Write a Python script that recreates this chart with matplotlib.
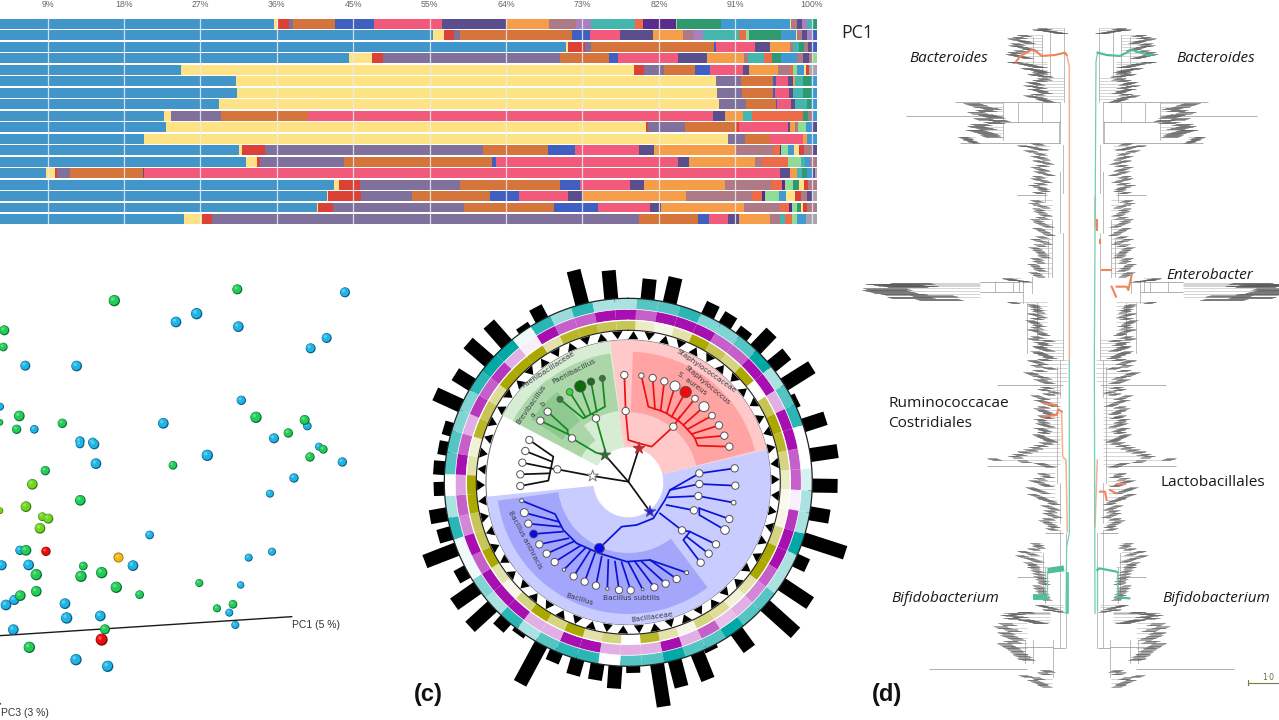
import numpy as np
import matplotlib
matplotlib.use("Agg")
import matplotlib.pyplot as plt
from matplotlib.patches import Wedge
from matplotlib.colors import to_rgb

W, H = 1279, 720
fig = plt.figure(figsize=(W / 100, H / 100), dpi=100, facecolor="white")


def px_axes(x0, y0, x1, y1, **kw):
    return fig.add_axes([x0 / W, 1 - y1 / H, (x1 - x0) / W, (y1 - y0) / H], **kw)


def ftext(x, y, s, **kw):
    fig.text(x / W, 1 - y / H, s, **kw)


# ---------- (a) stacked taxonomic bars ----------
taxon_colors = dict(B="#4195c9", Y="#fde386", R="#dc4138", G="#80709c", O="#d5743b", L="#3f60c0",
                    P="#f25a7b", N="#5a4f8c", A="#f59d48", M="#ad7a86", I="#a97fc0", T="#45b6ae",
                    C="#ee6b4a", D="#5a2d8c", E="#8fdc96", H="#2f9a70", S="#4199d2", X="#a9a2ac")
tick_vals = [9.09, 18.18, 27.27, 36.36, 45.45, 54.55, 63.64, 72.73, 81.82, 90.91, 100]
tick_labels = ["9%", "18%", "27%", "36%", "45%", "55%", "64%", "73%", "82%", "91%", "100%"]
row01 = ("BYRGOLPNAMITCDEHSYMNITH", [36.0, 36.5, 37.8, 38.3, 43.3, 47.9, 56.0, 63.6, 68.8, 72.0, 73.7, 79.0, 79.9, 83.8, 84.0, 89.2, 97.4, 97.6, 98.2, 98.9, 99.4, 100.0, 100.6])
row02 = ("BYRGOLPNAMITCEHSYMNIL", [54.9, 56.2, 57.4, 58.2, 71.5, 73.6, 77.2, 81.1, 84.7, 85.9, 87.1, 91.4, 92.2, 92.6, 96.4, 98.1, 98.3, 98.9, 99.4, 100.0, 100.6])
row03 = ("BYRGOLPNAMTHMNL", [70.8, 71.0, 73.0, 73.7, 88.4, 88.6, 93.2, 95.0, 97.4, 97.8, 98.5, 99.1, 99.6, 100.1, 100.6])
row04 = ("BYRGOLPNAMTCHSMNME", [45.0, 47.7, 49.0, 70.1, 75.9, 76.9, 84.1, 87.6, 91.9, 92.4, 94.3, 95.3, 96.4, 98.2, 99.0, 99.7, 100.2, 100.6])
row05 = ("BYRGOLPNAMCESYRX", [24.9, 78.8, 80.0, 82.4, 86.1, 87.9, 91.8, 92.6, 96.0, 97.4, 97.8, 98.3, 99.1, 99.3, 99.7, 100.6])
row06 = ("BYGOLPNATHS", [31.5, 88.6, 91.6, 95.4, 95.8, 97.2, 97.8, 98.0, 99.0, 99.9, 100.6])
row07 = ("BYGOLPNTHS", [31.6, 88.7, 91.7, 95.4, 95.6, 97.3, 97.8, 99.0, 99.9, 100.6])
row08 = ("BYGOLPNTHS", [29.5, 89.0, 92.2, 95.7, 95.9, 97.5, 98.0, 99.4, 99.9, 100.6])
row09 = ("BYGOPNATCHMS", [22.9, 23.8, 29.7, 40.1, 88.3, 89.7, 91.8, 92.9, 99.0, 99.6, 100.2, 100.6])
row10 = ("BYRGORPNAMESN", [23.2, 80.3, 80.5, 84.9, 91.1, 91.3, 97.2, 97.4, 98.0, 98.4, 99.3, 100.0, 100.6])
row11 = ("BYGOPAS", [20.5, 90.0, 92.1, 95.1, 99.0, 99.4, 100.6])
row12 = ("BYRGOLPNAMCDESYRMN", [31.8, 32.2, 34.9, 60.9, 68.6, 71.8, 79.5, 81.2, 91.0, 95.4, 96.2, 96.4, 97.2, 97.9, 98.5, 99.1, 100.0, 100.6])
row13 = ("BYRGOLPNAMCETSM", [32.7, 34.0, 34.4, 44.3, 62.0, 62.4, 84.1, 85.4, 93.3, 94.1, 97.2, 98.7, 99.2, 99.8, 100.6])
row14 = ("BYRGONPNATHSNX", [8.9, 10.0, 10.2, 11.8, 20.4, 20.6, 96.2, 97.4, 98.2, 98.9, 99.4, 100.0, 100.4, 100.6])
row15 = ("BYRGOLPNAMCDEHYRM", [43.2, 43.8, 46.2, 58.2, 70.1, 72.4, 78.4, 80.1, 89.7, 95.2, 96.5, 96.8, 97.8, 98.5, 99.1, 99.6, 100.6])
row16 = ("BYRGOLPNAMCDESYRMNX", [42.3, 42.5, 46.4, 52.4, 61.7, 65.2, 71.0, 72.8, 85.0, 92.9, 94.1, 94.4, 96.1, 97.0, 98.0, 98.7, 99.4, 100.0, 100.6])
row17 = ("BYRGOLPNAMCDEHYRM", [41.1, 41.3, 43.0, 58.6, 69.3, 74.6, 80.8, 82.1, 91.9, 96.2, 97.3, 97.7, 98.2, 98.7, 99.0, 99.5, 100.6])
row18 = ("BYRGOLPNAMTCESX", [25.3, 27.5, 28.6, 79.5, 86.5, 87.8, 90.0, 91.4, 95.0, 96.2, 96.8, 97.7, 98.2, 99.3, 100.6])
bar_rows = [row01, row02, row03, row04, row05, row06, row07, row08, row09,
            row10, row11, row12, row13, row14, row15, row16, row17, row18]

ax = px_axes(-28.7, 18.26, 816.7, 224.7)
for i, (taxa, ends) in enumerate(bar_rows):
    left = 0.0
    for t, e in zip(taxa, ends, strict=True):
        ax.barh(i, e - left, left=left, height=0.87, color=taxon_colors[t], linewidth=0)
        left = e
ax.set_xlim(0, 100.6)
ax.set_ylim(17.5, -0.5)
ax.set_yticks([])
ax.set_xticks(tick_vals)
ax.set_xticklabels(tick_labels, fontsize=6.3, color="#666666", family="Liberation Sans")
ax.tick_params(axis="x", top=False, bottom=False, labeltop=True, labelbottom=False, length=0, pad=7)
ax.grid(axis="x", color="#e8eef4", lw=0.9, alpha=0.85)
ax.set_axisbelow(False)
for s in ax.spines.values():
    s.set_visible(False)
ftext(841, 38, "PC1", fontsize=12.8, family="Open Sans", color="#222222")

# ---------- (b) PCoA scatter ----------
cyan_x = [1035, 590, 528, 715, 980, 932, 76, 230, 0, 724, 490, 103, 240, 240, 278, 283, 288, 822, 922, 957, 1027, 622, 882, 810, 449, 60, 5, 86, 399, 746, 816, 722, 18, 43, 195, 200, 301, 688, 706, 40, 228, 323]
cyan_y = [67, 131, 156, 170, 204, 235, 287, 288, 410, 391, 460, 478, 513, 522, 517, 523, 581, 505, 468, 530, 576, 556, 624, 671, 795, 841, 886, 885, 887, 863, 845, 945, 1005, 990, 1001, 1044, 1038, 1028, 1065, 1079, 1169, 1189]
cyan_r = [15, 17, 16, 16, 15, 15, 15, 16, 12, 14, 16, 13, 14, 13, 14, 15, 16, 15, 13, 12, 14, 17, 14, 12, 13, 14, 15, 16, 16, 12, 12, 11, 16, 15, 16, 17, 16, 12, 12, 16, 17, 17]
green_x = [712, 343, 13, 10, 58, 0, 50, 187, 768, 914, 865, 970, 930, 519, 136, 241, 78, 250, 243, 305, 109, 109, 61, 349, 419, 598, 651, 699, 315, 88]
green_y = [58, 92, 181, 231, 438, 457, 478, 460, 442, 450, 489, 538, 561, 586, 602, 691, 841, 888, 919, 908, 914, 964, 977, 952, 974, 939, 1015, 1003, 1078, 1132]
green_r = [15, 17, 15, 13, 16, 10, 14, 14, 17, 15, 14, 13, 14, 13, 14, 16, 16, 13, 17, 17, 17, 16, 16, 17, 13, 12, 12, 13, 15, 17]
lime_x = [97, 78, 127, 145, 120, 0]
lime_y = [643, 710, 740, 746, 775, 722]
lime_r = [16, 16, 13, 15, 16, 10]
red_x = [138, 305]
red_y = [844, 1109]
red_r = [14, 18]
gold_x = [354]
gold_y = [862]
gold_r = [15]
pc_axis_x = [0, 875]
pc_axis_y = [1097, 1040]

bx = px_axes(0, 270, 360, 720)
bx.set_xlim(0, 1080)
bx.set_ylim(1350, 0)
bx.axis("off")
bx.patch.set_alpha(0)


def sphere(xs, ys, rs, col, dark):
    xs, ys, rs = np.array(xs, float), np.array(ys, float), np.array(rs, float)
    s = (2 * rs / 3 * 0.72) ** 2
    bx.scatter(xs, ys, s=s, color=dark, linewidths=0, zorder=3)
    bx.scatter(xs - rs * 0.08, ys - rs * 0.08, s=s * 0.72, color=col, linewidths=0, zorder=3)
    bx.scatter(xs - rs * 0.28, ys - rs * 0.30, s=s * 0.10, color="white", alpha=0.3, linewidths=0, zorder=3)


bx.plot(pc_axis_x, pc_axis_y, color="#1a1a1a", lw=1.0, zorder=2)
sphere(cyan_x, cyan_y, cyan_r, "#1fb4e6", "#0a5a80")
sphere(green_x, green_y, green_r, "#22cc55", "#0b6e35")
sphere(lime_x, lime_y, lime_r, "#6fd622", "#3c7a12")
sphere(red_x, red_y, red_r, "#f00a0a", "#800808")
sphere(gold_x, gold_y, gold_r, "#f5b70f", "#8a6a0a")
bx.plot([0, 2], [1300, 1302], color="#333333", lw=0.8)
ftext(292, 628, "PC1 (5 %)", fontsize=7.5, family="Liberation Sans", color="#333333")
ftext(1, 716, "PC3 (3 %)", fontsize=7.5, family="Liberation Sans", color="#333333")

# ---------- (c) cladogram ring ----------
teal_levels = [2, 2, 2.5, 1.5, 1.5, 2, 3, 1, 2, 2.5, 0, 0, 0.5, 1, 1, 3, 1, 1, 2, 2, 3, 2, 2, 3, 2, 2,
               0, 2.5, 2.5, 2, 1, 2.5, 1, 1.5, 0.2, 0.2, 2.5, 1, 0, 2, 2, 1.5, 1.5, 2.5, 3, 3, 0.2, 2.5, 1.2, 2.5, 1, 1]
magenta_levels = [2, 3, 3, 3, 2, 2, 3, 3, 1, 3, 3, 2, 2, 0.2, 2.5, 3, 3, 2, 1.5, 1, 0.8, 2, 1, 3, 1, 1,
                  1, 3, 3, 1, 1, 3, 3, 3, 2, 3, 1.5, 2, 1.2, 3, 2, 1, 2.5, 2, 2.5, 1, 0.2, 3, 2, 2, 3, 3]
olive_levels = [0.7, 0.3, 1, 3, 2, 1.5, 3, 0, 2, 3, 2.5, 1.5, 0.7, 0.2, 0.3, 1.5, 3, 3, 1, 0.5, 1.2, 1.5, 0.3, 1, 2.5, 0,
                1.5, 1, 3, 1.5, 3, 1.5, 0.3, 1, 3, 2, 2, 3, 3, 1, 0.5, 2.5, 2, 1.2, 3, 3, 3, 1, 2.5, 2.5, 2, 2]
bar_angles = [6, 13, 25.5, 31.6, 37.8, 43.7, 51, 57.9, 64, 72, 81.5, 91, 99.7, 108, 115, 123.6, 132, 144, 153.6, 158, 165.4, 171, 178.5,
              184, 189.6, 196, 203, 208.3, 216, 221.7, 227.6, 235, 241, 248.7, 254, 260, 268, 274.4, 280.5, 286.6, 294.6, 302, 311, 318.6, 325.8, 332, 345.5, 354.7]
bar_tips = [613, 630, 593, 590, 579, 622, 612, 650, 565, 622, 635, 628, 612, 684, 592, 655, 675, 618, 563, 638, 634, 681, 572,
            620, 601, 601, 585, 685, 564, 586, 643, 638, 588, 655, 593, 604, 584, 586, 579, 578, 637, 612, 637, 633, 568, 594, 656, 638]


def mix(color, level):
    c = np.array(to_rgb(color))
    return tuple(1 - (1 - c) * level / 3)


cx_px, cy_px, rmax_z = 628.3, 482.3, 700
pol = fig.add_axes([(cx_px - rmax_z / 3) / W, 1 - (cy_px + rmax_z / 3) / H, 2 * rmax_z / 3 / W, 2 * rmax_z / 3 / H],
                   projection="polar")
pol.set_theta_zero_location("N")
pol.set_theta_direction(-1)
pol.set_rlim(0, rmax_z)
pol.axis("off")
pol.patch.set_alpha(0)
half_w = 21
for a, tip in zip(bar_angles, bar_tips, strict=True):
    a_r = np.radians(a)
    r_in, r_out = np.hypot(540, half_w), np.hypot(tip, half_w)
    d_in, d_out = np.arctan(half_w / 540), np.arctan(half_w / tip)
    pol.fill([a_r - d_in, a_r - d_out, a_r + d_out, a_r + d_in], [r_in, r_out, r_out, r_in], color="black", linewidth=0, zorder=1)
seg_w = 360 / len(teal_levels)
for k, (a, b, c) in enumerate(zip(teal_levels, magenta_levels, olive_levels, strict=True)):
    th = np.radians(6.05 + k * seg_w)
    pol.bar(th, 33, bottom=519, width=np.radians(seg_w), color=mix("#00a8a6", a), linewidth=0, zorder=2)
    pol.bar(th, 32, bottom=487, width=np.radians(seg_w), color=mix("#a80fb0", b), linewidth=0, zorder=2)
    pol.bar(th, 30, bottom=456, width=np.radians(seg_w), color=mix("#aba800", c), linewidth=0, zorder=2)
th_all = np.linspace(0, 2 * np.pi, 361)
for r, lw, col in [(552, 0.9, "#222222"), (519, 0.5, "#ffffff"), (486, 0.9, "#ffffff"), (456, 0.8, "#222222"), (427, 0.7, "#666666")]:
    pol.plot(th_all, np.full(361, r), color=col, lw=lw, zorder=3)
triangle_dirs = [1, -1] * 29
for j, d in enumerate(triangle_dirs):
    a0 = np.radians(j * 360 / len(triangle_dirs) + 2)
    half = np.radians(2.0)
    if d > 0:
        tx, ty = [a0 - half, a0 + half, a0], [430, 430, 454]
    else:
        tx, ty = [a0 - half, a0 + half, a0], [454, 454, 430]
    pol.fill(tx, ty, color="black", linewidth=0, zorder=2)

cl = px_axes(420, 260, 850, 710)
cl.set_xlim(0, 1290)
cl.set_ylim(1350, 0)
cl.axis("off")
cl.patch.set_alpha(0)
C0 = (625, 667)
sector_spec = [(298, 352.6, 427, "#d6ecd3"), (352.6, 76.7, 427, "#ffc9c9"), (76.7, 264.2, 427, "#c9ccff")]
for a1, a2, r, col in sector_spec:
    cl.add_patch(Wedge(C0, r, a1 - 90, a2 - 90, width=r - 105, facecolor=col, linewidth=0, zorder=1))
band_spec = [(298, 322, 392, 160, "#aad6a8"), (322, 352, 390, 216, "#aad6a8"), (303, 322, 345, 235, "#8fc98f"),
             (2, 76, 392, 210, "#ffa3a3"), (143, 262, 395, 212, "#a3a6fa")]
for a1, a2, r1, r0, col in band_spec:
    cl.add_patch(Wedge(C0, r1, a1 - 90, a2 - 90, width=r1 - r0, facecolor=col, linewidth=0, zorder=1.5))

black_edges = [[(625, 665), (518, 648), (412, 628)], [(555, 585), (625, 665), (657, 565)], [(625, 665), (690, 755)],
               [(412, 628), (390, 625)], [(328, 540), (400, 590), (385, 662), (301, 678)], [(316, 573), (396, 605)],
               [(307, 608), (391, 625)], [(301, 643), (388, 640)]]
green_edges = [[(555, 585), (528, 578), (456, 535), (443, 520), (443, 510), (383, 455)], [(443, 522), (361, 482)],
               [(555, 570), (528, 475), (518, 462)], [(420, 418), (490, 475), (555, 440), (547, 355)], [(449, 396), (497, 472)],
               [(481, 379), (512, 462)], [(513, 365), (530, 455)]]
red_edges = [[(657, 550), (625, 540), (617, 453), (613, 345)], [(657, 550), (695, 560), (760, 500), (780, 470)],
             [(664, 347), (685, 440), (705, 447), (722, 452), (740, 460), (755, 470), (773, 480), (790, 495), (802, 508), (815, 522), (825, 535), (833, 557), (928, 560)],
             [(698, 354), (705, 447)], [(733, 364), (722, 452)], [(765, 378), (740, 460)], [(797, 396), (755, 470)],
             [(825, 416), (773, 480)], [(852, 440), (790, 495)], [(876, 467), (802, 508)], [(897, 496), (815, 522)], [(913, 527), (825, 535)]]
blue_edges = [[(538, 865), (605, 800), (650, 795), (700, 775), (735, 720), (750, 690), (838, 640), (944, 625)], [(750, 690), (838, 672), (946, 677)],
              [(745, 712), (835, 708), (941, 728)], [(740, 735), (822, 751)], [(838, 745), (928, 777)], [(838, 745), (838, 765), (915, 810)],
              [(720, 760), (786, 811), (810, 815), (888, 853)], [(810, 815), (790, 840), (842, 908)], [(800, 830), (866, 881)],
              [(305, 722), (405, 762), (430, 810), (470, 850), (538, 880), (620, 905), (690, 900), (800, 938)], [(313, 758), (415, 785)], [(325, 791), (420, 800)],
              [(341, 822), (428, 815)], [(358, 853), (445, 835)], [(380, 881), (460, 845)], [(404, 906), (480, 858)], [(432, 929), (495, 865)],
              [(461, 949), (510, 872)], [(494, 965), (525, 880)], [(528, 977), (545, 890)], [(562, 986), (565, 900)], [(597, 990), (585, 905)],
              [(632, 991), (605, 907)], [(668, 988), (625, 907)], [(703, 982), (645, 905)], [(737, 971), (665, 905)], [(770, 957), (690, 900)]]
for edges, col in [(black_edges, "#111111"), (green_edges, "#118a1e"), (red_edges, "#ee1111"), (blue_edges, "#0a14d8")]:
    for e in edges:
        xs, ys = zip(*e)
        cl.plot(xs, ys, color=col, lw=1.25, zorder=3, solid_joinstyle="round")

node_x = [328, 316, 307, 301, 301, 412, 361, 383, 456, 528, 617, 613, 760, 664, 698, 733, 765, 825, 852, 876, 897, 913, 928,
          838, 944, 838, 946, 835, 941, 822, 928, 915, 786, 888, 842, 866, 305, 313, 325, 358, 380, 404, 432, 461, 494, 528, 562, 597, 632, 668, 703, 737, 770, 800]
node_y = [540, 573, 608, 643, 678, 628, 482, 455, 535, 475, 453, 345, 500, 347, 354, 364, 378, 416, 440, 467, 496, 527, 560,
          640, 625, 672, 677, 708, 728, 751, 777, 810, 811, 853, 908, 881, 722, 758, 791, 853, 881, 906, 929, 949, 965, 977, 986, 990, 991, 988, 982, 971, 957, 938]
node_r = [11, 11, 11, 11, 11, 11, 11, 11, 11, 11, 11, 11, 11, 8, 11, 11, 15, 10, 15, 10, 11, 11, 11,
          11, 11, 11, 11, 11, 7, 11, 11, 13, 11, 11, 11, 11, 6, 12, 11, 11, 11, 11, 5, 11, 11, 11, 5, 11, 11, 4, 11, 11, 11, 6]
filled_x = [420, 449, 481, 513, 547, 797, 341, 538]
filled_y = [418, 396, 379, 365, 355, 396, 822, 865]
filled_r = [9, 10, 17, 11, 9, 17, 12, 15]
filled_c = ["#2e7d32", "#33dd33", "#0a6b0a", "#1f6a1f", "#2e7d32", "#f00a0a", "#0a0af0", "#0a0af0"]
node_s = (2 * np.array(node_r) / 3 * 0.72) ** 2
cl.scatter(node_x, node_y, s=node_s, facecolor="white", edgecolor="#555555", linewidths=0.7, zorder=4)
cl.scatter(filled_x, filled_y, s=(2 * np.array(filled_r) / 3 * 0.72) ** 2, c=filled_c, edgecolors="#555555", linewidths=0.6, zorder=4)
star_x = [555, 657, 690, 518]
star_y = [585, 565, 755, 648]
star_c = ["#1f7a2a", "#e01a1a", "#1a1ae0", "white"]
star_e = ["#555555", "#a04040", "#5555a0", "#777777"]
cl.scatter(star_x, star_y, s=75, marker="*", c=star_c, edgecolors=star_e, linewidths=0.7, zorder=5)
clade_labels = [("Paenibacillaceae", 385, 328, 33), ("Paenibacillus", 462, 333, 27), ("Brevibacillus", 332, 435, 55),
                ("a", 340, 466, 40), ("b", 368, 431, 40), ("Staphylococcaceae", 858, 332, -35), ("Staphylococcus", 862, 376, -40),
                ("S. aureus", 815, 370, -36), ("Bacillaceae", 697, 1072, 8), ("Bacillus subtilis", 634, 1015, 0),
                ("Bacillus", 477, 1018, -17), ("Bacillus anthracis", 315, 838, -62)]
for s, x, y, rot in clade_labels:
    cl.text(x, y, s, rotation=rot, fontsize=5.3, color="#3a3a4a", ha="center", va="center", rotation_mode="anchor", zorder=6)
ftext(414, 701, "(c)", fontsize=17, family="Liberation Sans", weight="bold", color="#111111")
ftext(872, 701, "(d)", fontsize=17, family="Liberation Sans", weight="bold", color="#111111")

# ---------- (d) mirrored phylogenies ----------
clade_top = [25, 45, 125, 175, 250, 300, 350, 370, 400, 540, 790, 805, 775, 845, 960, 1020, 1100, 1190, 1260, 1360, 1440, 1570, 1640, 1755, 1775, 1810, 1950]
clade_bot = [40, 115, 170, 245, 300, 350, 368, 395, 520, 770, 800, 840, 785, 960, 1020, 1090, 1190, 1260, 1340, 1440, 1530, 1640, 1740, 1775, 1810, 1920, 2000]
clade_base = [610, 545, 560, 612, 430, 430, 345, 570, 560, 575, 360, 360, 480, 560, 610, 620, 600, 600, 600, 585, 590, 545, 560, 610, 570, 500, 575]
clade_stem = [30, 30, 35, 30, 50, 50, 25, 30, 26, 26, 120, 130, 30, 26, 30, 30, 26, 26, 30, 26, 26, 26, 26, 25, 40, 40, 30]
clade_tips = [
    [530, 515, 540, 560, 580],
    [470, 455, 440, 465, 480, 450, 445, 470, 485, 460, 440, 435, 455, 475],
    [440, 470, 490, 510, 480, 505, 520, 515, 500, 530],
    [530, 515, 495, 510, 490, 515, 500, 520, 530, 510, 490, 515, 525, 540],
    [310, 330, 360, 345, 320, 350, 370, 340],
    [385, 370, 330, 320, 345, 315, 335, 355, 360],
    [295, 300, 310, 320],
    [510, 470, 500, 520, 490],
    [520, 510, 530, 515, 540, 525, 510, 530, 520, 545, 515, 510, 535, 520, 505, 525, 530, 515],
    [510, 505, 530, 515, 520, 535, 525, 510, 520, 540, 515, 530, 545, 525, 510, 535, 520, 505, 515, 525, 530, 510, 515, 500, 510, 520, 505, 515],
    [90, 15, 60, 40, 100, 70],
    [10, 5, 30, 60, 150, 80, 165],
    [425, 440, 470],
    [440, 500, 505, 510, 515, 500, 520, 510, 495, 505, 515, 510, 500, 520, 530, 510, 500],
    [540, 520, 530, 515, 520, 540, 510, 520, 535, 545, 530],
    [500, 520, 510, 545, 515, 490, 505, 530, 520, 540],
    [540, 530, 560, 545, 510, 530, 520, 540, 555, 530, 520, 535, 545, 530],
    [540, 520, 530, 525, 545, 520, 535, 530, 515, 525, 540],
    [550, 535, 520, 505, 490, 470, 455, 445, 380, 470, 520, 540],
    [530, 540, 520, 505, 525, 540, 495, 510, 530, 500, 520, 530],
    [550, 560, 540, 560, 550, 545, 565, 545, 535, 550, 560, 555],
    [510, 515, 500, 470, 495, 465, 490, 510, 490, 500],
    [500, 510, 515, 520, 525, 530, 515, 520, 525, 530, 535],
    [525, 540, 560, 545, 575],
    [470, 440, 420, 450, 430, 470, 490, 510],
    [415, 400, 430, 410, 420, 440, 430, 410, 425, 440, 450, 460, 470],
    [540, 530, 475, 510, 500, 520, 530],
]
grey_v = [(612, 25, 245), (600, 245, 370), (610, 375, 520), (600, 455, 640), (555, 500, 545), (575, 600, 770), (565, 660, 770), (610, 640, 1020),
          (598, 305, 368), (430, 250, 360), (475, 250, 305), (545, 250, 305), (405, 785, 815), (460, 785, 815), (478, 780, 815), (490, 780, 850),
          (515, 770, 820), (600, 1020, 1130), (590, 1040, 1390), (600, 1390, 1510), (600, 1530, 1880), (550, 1600, 1740), (555, 1640, 1750),
          (618, 1540, 1885), (580, 1860, 1970), (520, 1860, 1930), (495, 1860, 1930), (520, 50, 130), (545, 45, 170), (570, 40, 175), (500, 850, 1000), (530, 850, 960)]
grey_h = [(245, 285, 600), (305, 430, 600), (368, 300, 600), (287, 137, 430), (785, 360, 480), (815, 360, 490), (1095, 410, 610), (1338, 380, 590),
          (1948, 208, 500), (1885, 580, 615), (1880, 450, 580), (1540, 555, 610), (525, 470, 560), (1670, 470, 550), (1778, 430, 570)]
left_orange_thick = [[(468, 125), (480, 110), (490, 103), (515, 90), (530, 95), (545, 108), (585, 105), (615, 98), (620, 105)],
                     [(550, 1150), (590, 1155)], [(550, 1190), (590, 1185), (595, 1168), (605, 1175)]]
left_orange = [[(620, 105), (628, 140), (628, 1020)], [(605, 1175), (608, 1310), (618, 1320), (622, 1535)]]
left_green = [[(628, 1020), (628, 1540), (620, 1580), (618, 1780)], [(560, 1652), (560, 1732)]]
left_green_thick = [[(563, 1652), (612, 1645)], [(520, 1732), (560, 1732)]]
left_green_mid = [[(620, 1660), (620, 1775)]]
right_green_thick = [[(878, 103), (860, 105), (850, 100), (815, 90), (795, 100), (780, 108), (740, 105), (713, 98)],
                     [(712, 1650), (718, 1645), (770, 1655)], [(770, 1732), (808, 1735)]]
right_green = [[(713, 98), (708, 125), (703, 1020), (705, 1780)], [(712, 1640), (712, 1770)], [(770, 1655), (770, 1732)]]
right_orange = [[(712, 600), (712, 630)], [(720, 660), (720, 668)], [(725, 750), (752, 750)],
                [(755, 800), (768, 830)], [(770, 800), (800, 800), (805, 810), (815, 765)],
                [(720, 1415), (735, 1415), (740, 1440)], [(750, 1410), (768, 1420)], [(770, 1392), (795, 1392)]]
right_orange_pale = [[(705, 530), (705, 620)], [(712, 1320), (705, 1520)]]
scale_x = [1163, 1257]
scale_y = [1988, 1988]

tr = px_axes(860, 20, 1279, 700)
tr.set_xlim(0, 1257)
tr.set_ylim(2040, 0)
tr.axis("off")
tr.patch.set_alpha(0)
MIRROR = 1329


def hline(y, a, b, **kw):
    tr.plot([a, b], [y, y], solid_capstyle="butt", **kw)
    tr.plot([MIRROR - a, MIRROR - b], [y, y], solid_capstyle="butt", **kw)


for x, y0, y1 in grey_v:
    tr.plot([x, x], [y0, y1], color="#a9a9a9", lw=0.55, zorder=1)
    tr.plot([MIRROR - x, MIRROR - x], [y0, y1], color="#a9a9a9", lw=0.55, zorder=1)
for y, a, b in grey_h:
    hline(y, a, b, color="#999999", lw=0.55, zorder=1)
for y0, y1, base, stem, tips in zip(clade_top, clade_bot, clade_base, clade_stem, clade_tips, strict=True):
    ys = np.linspace(y0, y1, 4 * len(tips))
    tip4 = np.repeat(tips, 4)
    for n, (y, t) in enumerate(zip(ys, tip4)):
        t2 = t + (n % 4) * 5
        hline(y, t2, t2 + stem, color="#5c5c5c", lw=0.4, zorder=2)
        if n % 7 == 0:
            hline(y, t2, base, color="#b4b4b4", lw=0.4, zorder=1)
    hline(y0, base, base, color="#999999", lw=0.4)
for path in left_orange + right_orange_pale:
    xs, ys = zip(*path)
    tr.plot(xs, ys, color="#f6b094", lw=1.1, zorder=4)
for path in left_orange_thick + right_orange:
    xs, ys = zip(*path)
    tr.plot(xs, ys, color="#f0845a", lw=1.5, zorder=4)
for path in left_green + right_green:
    xs, ys = zip(*path)
    tr.plot(xs, ys, color="#6fcfb2", lw=0.9, zorder=4)
for path in right_green_thick:
    xs, ys = zip(*path)
    tr.plot(xs, ys, color="#4fbf9a", lw=1.6, zorder=4)
for path in left_green_mid:
    xs, ys = zip(*path)
    tr.plot(xs, ys, color="#5fc7a5", lw=2.0, zorder=4)
for path in left_green_thick:
    xs, ys = zip(*path)
    tr.plot(xs, ys, color="#4fbf9a", lw=4.2, zorder=4, solid_capstyle="butt")
tr.plot(scale_x, scale_y, color="#7a7a40", lw=0.8, clip_on=False)
tr.plot([scale_x[0], scale_x[0]], [1980, 1996], color="#7a7a40", lw=0.8)
tr.text(1225, 1974, "1·0", fontsize=5.5, color="#6a6a40", ha="center", va="center")

labels_it = [("Bacteroides", 909, 62), ("Bacteroides", 1176, 62), ("Enterobacter", 1166, 279), ("Bifidobacterium", 891, 602), ("Bifidobacterium", 1162, 602)]
labels_up = [("Ruminococcacae", 888, 407), ("Costridiales", 888, 427), ("Lactobacillales", 1160, 486)]
for s, x, y in labels_it:
    ftext(x, y, s, fontsize=11, family="Open Sans", style="italic", color="#1a1a1a")
for s, x, y in labels_up:
    ftext(x, y, s, fontsize=11.1, family="Open Sans", color="#1a1a1a")

fig.savefig("out.png", dpi=100, facecolor="white")
